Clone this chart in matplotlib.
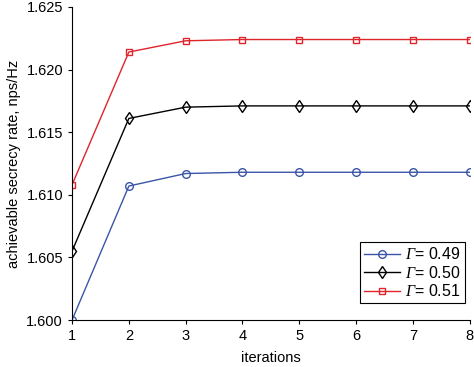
import matplotlib
matplotlib.use("Agg")
import matplotlib.pyplot as plt

iterations = [1, 2, 3, 4, 5, 6, 7, 8]
rate_049 = [1.6000, 1.6107, 1.6117, 1.6118, 1.6118, 1.6118, 1.6118, 1.6118]
rate_050 = [1.6055, 1.6161, 1.6170, 1.6171, 1.6171, 1.6171, 1.6171, 1.6171]
rate_051 = [1.6108, 1.6214, 1.6223, 1.6224, 1.6224, 1.6224, 1.6224, 1.6224]
labels = [r"$\Gamma$= 0.49", r"$\Gamma$= 0.50", r"$\Gamma$= 0.51"]

plt.rcParams["font.family"] = ["Liberation Sans", "DejaVu Sans"]
# upper-case Greek is set in the rm face, so make that one italic
plt.rcParams["mathtext.fontset"] = "custom"
plt.rcParams["mathtext.it"] = "Liberation Serif:italic"
plt.rcParams["mathtext.rm"] = "Liberation Serif:italic"

fig = plt.figure(figsize=(4.74, 3.67), dpi=100)
ax = fig.add_axes([0.152, 0.128, 0.839, 0.853])

ax.plot(iterations, rate_049, color="#3a55a8", marker="o", mfc="none", ms=5.5, lw=1, label=labels[0])
ax.plot(iterations, rate_050, color="black", marker="d", mfc="none", ms=6, lw=1, label=labels[1])
ax.plot(iterations, rate_051, color="#e0242c", marker="s", mfc="none", ms=5, lw=1, label=labels[2])

ax.set_xlim(1, 8)
ax.set_ylim(1.600, 1.625)
ax.set_xticks(iterations)
ax.set_yticks([1.600, 1.605, 1.610, 1.615, 1.620, 1.625])
ax.set_yticklabels(["1.600", "1.605", "1.610", "1.615", "1.620", "1.625"])
ax.tick_params(labelsize=10.5, length=3, width=0.8, direction="out")
ax.spines["top"].set_visible(False)
ax.spines["right"].set_visible(False)
ax.set_xlabel("iterations", fontsize=10.5, labelpad=6)
ax.set_ylabel("achievable secrecy rate, nps/Hz", fontsize=10.5)

leg = ax.legend(loc="lower right", bbox_to_anchor=(0.987, 0.054), borderaxespad=0,
                fontsize=11.5, fancybox=False, edgecolor="black", framealpha=1,
                handlelength=2.3, borderpad=0.25, labelspacing=0.15, handletextpad=0.3)
leg.get_frame().set_linewidth(0.8)

fig.savefig("out.png", dpi=100)
